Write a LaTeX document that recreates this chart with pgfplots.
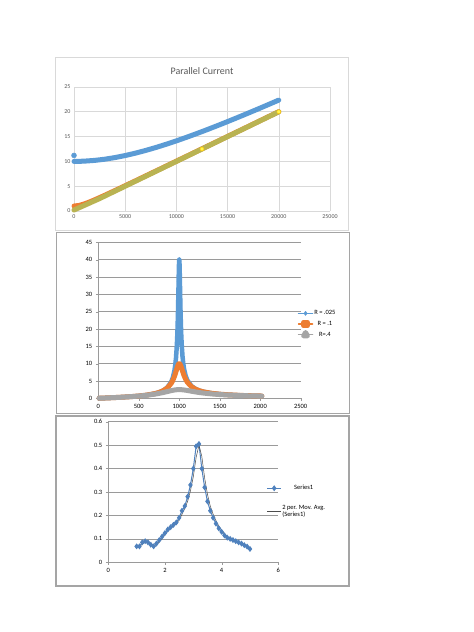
\documentclass[border=0pt]{standalone}
\usepackage{pgfplots}
\pgfplotsset{compat=1.18}
\usepackage{fontspec}
\setmainfont{Carlito}
\definecolor{xlblue}{HTML}{5B9BD5}
\definecolor{xlorange}{HTML}{ED7D31}
\definecolor{xlgray}{HTML}{A5A5A5}
\definecolor{xlolive}{HTML}{B9B352}
\definecolor{xlyellow}{HTML}{FFC000}
\definecolor{oldblue}{HTML}{4F81BD}
\definecolor{gridlt}{HTML}{D9D9D9}
\definecolor{gridmd}{HTML}{9A9A9A}
\definecolor{txtgray}{HTML}{595959}
\pgfplotsset{
  every tick label/.append style={font=\fontsize{6.5}{7.5}\selectfont},
  /pgf/number format/assume math mode=true,
  /pgf/number format/1000 sep={},
}
\begin{document}
\begin{tikzpicture}
\fill[white] (0pt,0pt) rectangle (474pt,632pt);
% frames
\draw[gridlt, line width=0.8pt] (55pt,402pt) rectangle (348pt,575pt);
\draw[xlgray, line width=0.8pt] (56pt,219pt) rectangle (349pt,400pt);
\draw[xlgray, line width=1.1pt] (56pt,46pt) rectangle (349pt,216pt);
\node[font=\fontsize{10}{12}\selectfont, text=txtgray] at (202pt,561pt) {Parallel Current};

% ---------- Chart 1 ----------
\begin{axis}[
  at={(74pt,421pt)}, anchor=south west, scale only axis,
  width=256pt, height=124pt,
  xmin=0, xmax=25000, ymin=0, ymax=25,
  xtick={0,5000,10000,15000,20000,25000},
  ytick={0,5,10,15,20,25},
  scaled ticks=false,
  grid=major, grid style={gridlt, line width=0.6pt},
  axis line style={draw=none}, tick style={draw=none},
  tick label style={text=txtgray, font=\fontsize{6}{7}\selectfont},
  clip=false,
]
\addplot[xlblue, line width=5pt, line cap=round, line join=round] coordinates {
(0,10.0)(200,10.002)(500,10.012)(1000,10.05)(2000,10.198)(3000,10.44)(4000,10.77)(5000,11.18)(6000,11.662)(7000,12.207)(8000,12.806)(9000,13.454)(10000,14.142)(11000,14.866)(12000,15.62)(13000,16.401)(14000,17.205)(15000,18.028)(16000,18.868)(17000,19.723)(18000,20.591)(19000,21.471)(20000,22.361)};
\addplot[only marks, mark=*, mark size=2.5pt, xlblue] coordinates {(0,11.2)};
\addplot[xlorange, line width=5pt, line cap=round, line join=round] coordinates {
(0,1.0)(500,1.118)(1000,1.414)(1500,1.803)(2000,2.236)(3000,3.162)(4000,4.123)(5000,5.099)(6000,6.083)(8000,8.062)(10000,10.05)(12000,12.042)(14000,14.036)(16000,16.031)(18000,18.028)(20000,20.025)};
\addplot[xlolive, line width=5pt, line cap=round, line join=round] coordinates {
(0,0.2)(2500,2.5)(5000,5.0)(7500,7.5)(10000,10.0)(12500,12.5)(15000,15.0)(17500,17.5)(20000,20.0)};
\addplot[only marks, mark=*, mark size=2pt, mark options={fill=yellow!70!white, draw=xlyellow}] coordinates {(12500,12.5)(20000,20.0)};
\end{axis}

% ---------- Chart 2 ----------
\begin{axis}[
  at={(98.3pt,233.7pt)}, anchor=south west, scale only axis,
  width=202.4pt, height=156pt,
  xmin=0, xmax=2500, ymin=0, ymax=45,
  xtick={0,500,1000,1500,2000,2500},
  ytick={0,5,10,15,20,25,30,35,40,45},
  scaled ticks=false,
  ymajorgrids, grid style={gridmd, line width=0.6pt},
  axis lines*=left, axis line style={gridmd, line width=0.7pt},
  tick align=outside, major tick length=2.5pt, tick style={gridmd},
  clip=false,
  legend style={at={(0.985,0.476)}, anchor=west, draw=none, fill=none,
    font=\fontsize{6.5}{7.5}\selectfont, row sep=3pt, inner sep=0pt,
    nodes={inner sep=1pt}},
  legend image code/.code={\draw[#1, line width=1.4pt, mark=none] (0pt,0pt) -- (14pt,0pt); \draw[#1, mark indices={1}] plot coordinates {(7pt,0pt)};},
]
\addplot[xlblue, line width=4.5pt, line join=round, line cap=round, mark=diamond*, mark size=2.2pt, mark options={line width=0.3pt}, mark indices={17,18,19,20,21,22,23,24,25,26,27,28,29,30,31,32,33,34,35,36,37}] coordinates {
(10,0.010)(50,0.0501)(100,0.101)(200,0.2083)(300,0.3297)(400,0.4762)(500,0.6666)(600,0.9372)(700,1.3726)(750,1.7127)(800,2.2188)(850,3.0542)(900,4.7039)(920,5.9234)(940,7.9158)(950,9.4669)(960,11.708)(970,15.184)(975,17.708)(980,21.044)(985,25.491)(990,31.174)(992,33.65)(994,36.04)(996,38.09)(998,39.50)(1000,40.0)(1002,39.50)(1004,38.10)(1006,36.08)(1008,33.73)(1010,31.30)(1015,25.72)(1020,21.35)(1025,18.07)(1030,15.58)(1040,12.14)(1050,9.923)(1060,8.385)(1080,6.407)(1100,5.194)(1150,3.552)(1200,2.721)(1250,2.2188)(1300,1.882)(1400,1.4574)(1500,1.1995)(1600,1.0253)(1700,0.8992)(1800,0.8034)(1900,0.7278)(2000,0.6666)(2020,0.6557)};
\addlegendentry{R = .025}
\addplot[xlorange, line width=5pt, line join=round, line cap=round, mark=square*, mark size=1.8pt, mark indices={999}] coordinates {
(10,0.010)(50,0.0501)(100,0.101)(200,0.2083)(300,0.3295)(400,0.4757)(500,0.6652)(600,0.9334)(700,1.3598)(750,1.6896)(800,2.1693)(850,2.9288)(900,4.2808)(920,5.1381)(940,6.2832)(950,6.9787)(960,7.7453)(970,8.5395)(975,8.9214)(980,9.2717)(985,9.5721)(990,9.804)(995,9.9501)(1000,10.0)(1005,9.9506)(1010,9.8076)(1015,9.584)(1020,9.2973)(1025,8.9663)(1030,8.608)(1040,7.8674)(1050,7.1557)(1060,6.5099)(1080,5.4442)(1100,4.6401)(1150,3.3587)(1200,2.6312)(1250,2.1693)(1300,1.8515)(1400,1.4431)(1500,1.1914)(1600,1.0203)(1700,0.8959)(1800,0.801)(1900,0.726)(2000,0.6652)(2020,0.6544)};
\addlegendentry{R = .1}
\addplot[xlgray, line width=5pt, line join=round, line cap=round, mark=triangle*, mark size=2.2pt, mark indices={999}] coordinates {
(10,0.010)(50,0.0501)(100,0.1009)(200,0.2076)(300,0.3269)(400,0.4678)(500,0.6442)(600,0.8778)(700,1.2032)(750,1.4138)(800,1.6609)(850,1.9368)(900,2.211)(920,2.3071)(940,2.3882)(950,2.4216)(960,2.4495)(970,2.4715)(980,2.4873)(990,2.4969)(1000,2.5)(1010,2.4969)(1020,2.4878)(1030,2.4731)(1040,2.4533)(1050,2.4287)(1060,2.4001)(1080,2.3329)(1100,2.2562)(1150,2.047)(1200,1.8429)(1250,1.6609)(1300,1.5046)(1400,1.2597)(1500,1.0818)(1600,0.9489)(1700,0.8464)(1800,0.765)(1900,0.6989)(2000,0.6442)(2020,0.6343)};
\addlegendentry{R=.4}
\end{axis}

% ---------- Chart 3 ----------
\begin{axis}[
  at={(108.3pt,69.7pt)}, anchor=south west, scale only axis,
  width=170pt, height=140.6pt,
  xmin=0, xmax=6, ymin=0, ymax=0.6,
  xtick={0,2,4,6},
  ytick={0,0.1,0.2,0.3,0.4,0.5,0.6},
  yticklabel style={/pgf/number format/fixed, /pgf/number format/precision=1},
  ymajorgrids, grid style={gridmd, line width=0.6pt},
  axis lines*=left, axis line style={gridmd, line width=0.7pt},
  tick align=outside, major tick length=2.5pt, tick style={gridmd},
  clip=false,
  legend style={at={(0.93,0.43)}, anchor=west, draw=none, fill=none,
    font=\fontsize{6.5}{7.5}\selectfont, row sep=13pt, inner sep=0pt,
    nodes={inner sep=0.5pt}, cells={align=left}},
  legend image code/.code={\draw[line width=1.2pt, #1, mark=none] (0pt,0pt) -- (14pt,0pt); \draw[#1, mark repeat=1] plot coordinates {(7pt,0pt)};},
]
\addplot[oldblue, line width=1pt, mark=diamond*, mark size=2.2pt] coordinates {
(1.0,0.068)(1.1,0.068)(1.2,0.085)(1.3,0.090)(1.4,0.085)(1.5,0.075)(1.6,0.068)(1.7,0.080)(1.8,0.095)(1.9,0.110)(2.0,0.125)(2.1,0.140)(2.2,0.150)(2.3,0.160)(2.4,0.170)(2.5,0.190)(2.6,0.220)(2.7,0.240)(2.8,0.280)(2.9,0.330)(3.0,0.400)(3.1,0.495)(3.2,0.505)(3.3,0.400)(3.4,0.320)(3.5,0.260)(3.6,0.220)(3.7,0.190)(3.8,0.165)(3.9,0.145)(4.0,0.130)(4.1,0.115)(4.2,0.105)(4.3,0.100)(4.4,0.095)(4.5,0.090)(4.6,0.085)(4.7,0.080)(4.8,0.073)(4.9,0.067)(5.0,0.057)};
\addlegendentry{Series1}
\addplot[black!70, line width=0.5pt, mark=none] coordinates {
(1.1,0.068)(1.2,0.0765)(1.3,0.0875)(1.4,0.0875)(1.5,0.080)(1.6,0.0715)(1.7,0.074)(1.8,0.0875)(1.9,0.1025)(2.0,0.1175)(2.1,0.1325)(2.2,0.145)(2.3,0.155)(2.4,0.165)(2.5,0.180)(2.6,0.205)(2.7,0.230)(2.8,0.260)(2.9,0.305)(3.0,0.365)(3.1,0.4475)(3.2,0.500)(3.3,0.4525)(3.4,0.360)(3.5,0.290)(3.6,0.240)(3.7,0.205)(3.8,0.1775)(3.9,0.155)(4.0,0.1375)(4.1,0.1225)(4.2,0.110)(4.3,0.1025)(4.4,0.0975)(4.5,0.0925)(4.6,0.0875)(4.7,0.0825)(4.8,0.0765)(4.9,0.070)(5.0,0.062)};
\addlegendentry{2 per. Mov. Avg.\\(Series1)}
\end{axis}
\end{tikzpicture}
\end{document}
